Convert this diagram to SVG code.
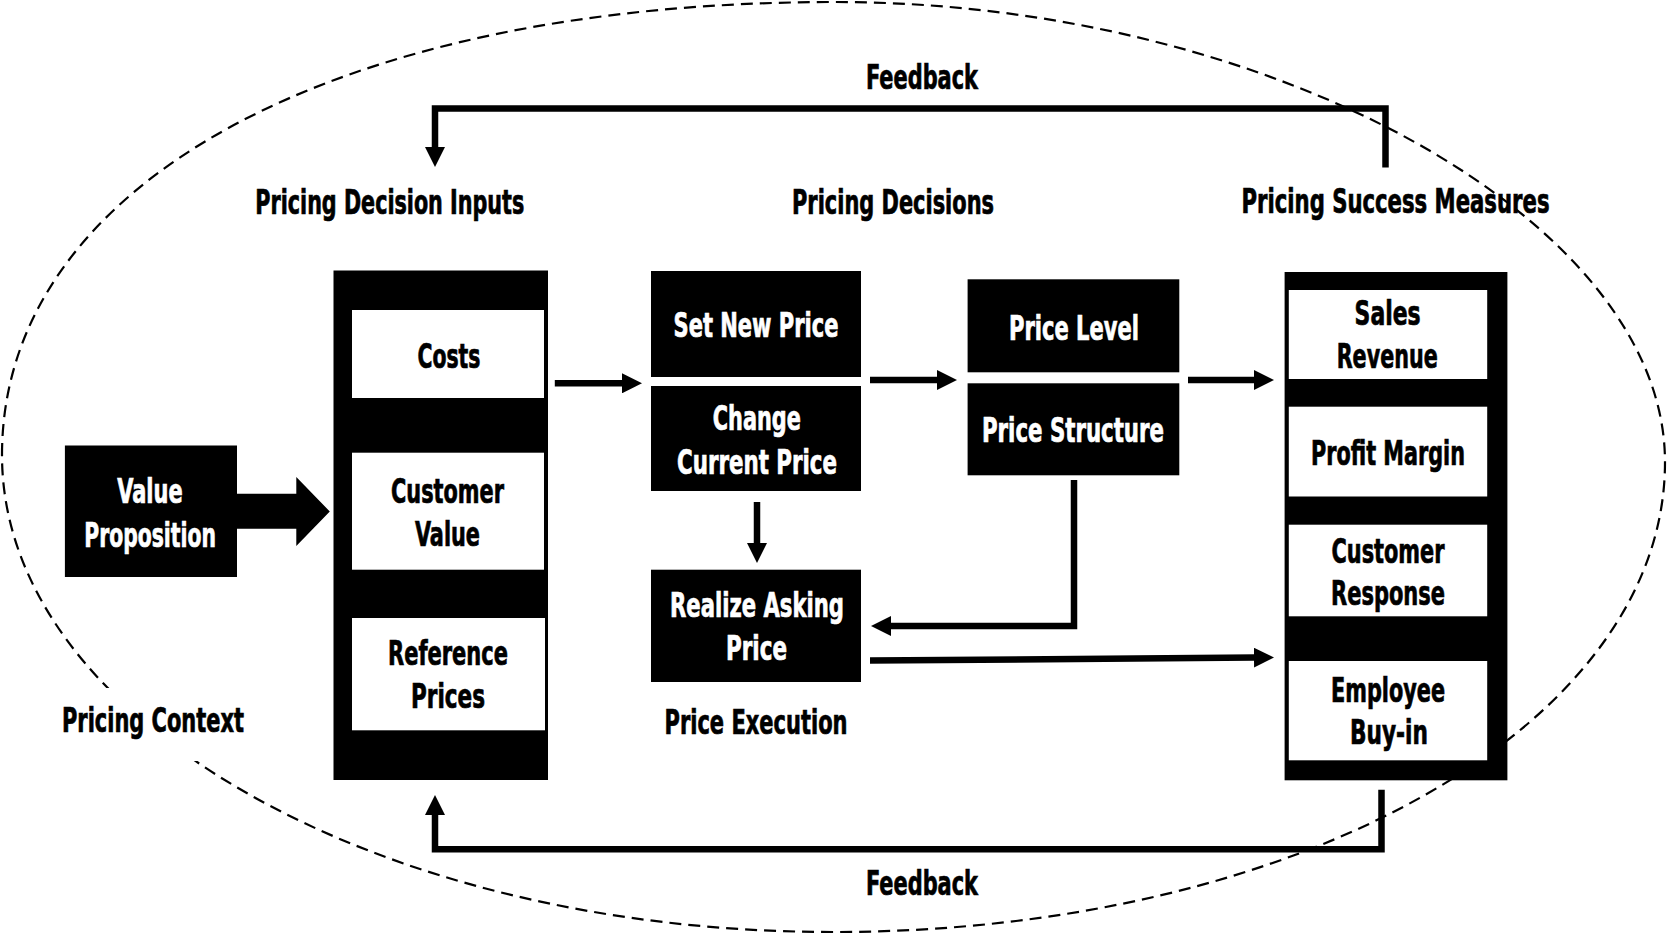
<svg xmlns="http://www.w3.org/2000/svg" width="1667" height="934" viewBox="0 0 1667 934">
<style>
.t{font-family:"Liberation Sans Narrow","DejaVu Sans Condensed","Liberation Sans",sans-serif;font-weight:bold;font-size:33px;fill:#000;stroke:#000;stroke-width:0.7}
.tw{font-family:"Liberation Sans Narrow","DejaVu Sans Condensed","Liberation Sans",sans-serif;font-weight:bold;font-size:33px;fill:#fff;stroke:#fff;stroke-width:0.7}
.blk{fill:#000}
.wht{fill:#fff}
.conn{fill:none;stroke:#000;stroke-width:6.5;stroke-linejoin:miter}
.ctx{fill:none;stroke:#000;stroke-width:2.2;stroke-dasharray:12 7}
</style>
<defs>
<marker id="ah" viewBox="0 0 20 20" markerWidth="20" markerHeight="20" refX="1" refY="10" markerUnits="userSpaceOnUse" orient="auto">
<path d="M0,0 L20,10 L0,20 Z" fill="#000"/>
</marker>
</defs>
<rect width="1667" height="934" fill="#fff"/>
<g id="headers">
<text class="t" x="866" y="89" textLength="112" lengthAdjust="spacingAndGlyphs">Feedback</text>
<text class="t" x="255.3" y="214" textLength="269" lengthAdjust="spacingAndGlyphs">Pricing Decision Inputs</text>
<text class="t" x="792" y="214" textLength="202" lengthAdjust="spacingAndGlyphs">Pricing Decisions</text>
<text class="t" x="1241.5" y="213" textLength="308" lengthAdjust="spacingAndGlyphs">Pricing Success Measures</text>
<text class="t" x="664.5" y="733.5" textLength="183" lengthAdjust="spacingAndGlyphs">Price Execution</text>
<text class="t" x="866" y="895" textLength="112" lengthAdjust="spacingAndGlyphs">Feedback</text>
</g>
<g id="pricing-context">
<path class="ctx" d="M2,455 C2,183.2 335.2,2 835,2 C1270.75,2 1665,220.5 1665,462 C1665,725.2 1298.9,932 833,932 C374,932 2,718.4 2,455 Z"/>
<rect x="60" y="688" width="190" height="73" fill="#fff"/>
<text class="t" x="62" y="732" textLength="182" lengthAdjust="spacingAndGlyphs">Pricing Context</text>
</g>
<g id="value-proposition">
<rect class="blk" x="64.9" y="445.5" width="172.1" height="131.5"/>
<text class="tw" x="117.3" y="503.3" textLength="65.3" lengthAdjust="spacingAndGlyphs">Value</text>
<text class="tw" x="84.3" y="546.7" textLength="131.7" lengthAdjust="spacingAndGlyphs">Proposition</text>
</g>
<g id="pricing-decision-inputs">
<rect class="blk" x="333.5" y="270.5" width="214.5" height="509.5"/>
<g id="costs">
<rect class="wht" x="352" y="310" width="192" height="88"/>
<text class="t" x="417.5" y="367.7" textLength="63" lengthAdjust="spacingAndGlyphs">Costs</text>
</g>
<g id="customer-value">
<rect class="wht" x="352" y="452.7" width="192" height="117"/>
<text class="t" x="391" y="503" textLength="113" lengthAdjust="spacingAndGlyphs">Customer</text>
<text class="t" x="415" y="546.3" textLength="65" lengthAdjust="spacingAndGlyphs">Value</text>
</g>
<g id="reference-prices">
<rect class="wht" x="352" y="618" width="193" height="112.3"/>
<text class="t" x="388" y="665.3" textLength="120" lengthAdjust="spacingAndGlyphs">Reference</text>
<text class="t" x="411" y="707.7" textLength="74" lengthAdjust="spacingAndGlyphs">Prices</text>
</g>
</g>
<g id="set-new-price">
<rect class="blk" x="651" y="271" width="210" height="106"/>
<text class="tw" x="673.5" y="336.7" textLength="165" lengthAdjust="spacingAndGlyphs">Set New Price</text>
</g>
<g id="change-current-price">
<rect class="blk" x="651" y="386" width="210" height="105"/>
<text class="tw" x="712.8" y="430" textLength="88" lengthAdjust="spacingAndGlyphs">Change</text>
<text class="tw" x="677" y="473.5" textLength="160" lengthAdjust="spacingAndGlyphs">Current Price</text>
</g>
<g id="realize-asking-price">
<rect class="blk" x="651" y="569.7" width="210" height="112.3"/>
<text class="tw" x="670" y="617" textLength="174" lengthAdjust="spacingAndGlyphs">Realize Asking</text>
<text class="tw" x="726" y="659.7" textLength="61" lengthAdjust="spacingAndGlyphs">Price</text>
</g>
<g id="price-level">
<rect class="blk" x="967.6" y="279.3" width="211.7" height="93"/>
<text class="tw" x="1009" y="340" textLength="130" lengthAdjust="spacingAndGlyphs">Price Level</text>
</g>
<g id="price-structure">
<rect class="blk" x="967.6" y="383.3" width="211.7" height="92"/>
<text class="tw" x="982" y="441.7" textLength="182" lengthAdjust="spacingAndGlyphs">Price Structure</text>
</g>
<g id="pricing-success-measures">
<rect class="blk" x="1284.6" y="272" width="222.8" height="508.3"/>
<g id="sales-revenue">
<rect class="wht" x="1288.8" y="290" width="198.4" height="89"/>
<text class="t" x="1354.6" y="325" textLength="66" lengthAdjust="spacingAndGlyphs">Sales</text>
<text class="t" x="1336.7" y="368.3" textLength="101" lengthAdjust="spacingAndGlyphs">Revenue</text>
</g>
<g id="profit-margin">
<rect class="wht" x="1288.8" y="406.7" width="198.4" height="89.8"/>
<text class="t" x="1311" y="464.5" textLength="154" lengthAdjust="spacingAndGlyphs">Profit Margin</text>
</g>
<g id="customer-response">
<rect class="wht" x="1288.8" y="524.7" width="198.4" height="91.6"/>
<text class="t" x="1331.5" y="563" textLength="113" lengthAdjust="spacingAndGlyphs">Customer</text>
<text class="t" x="1331" y="605.3" textLength="114" lengthAdjust="spacingAndGlyphs">Response</text>
</g>
<g id="employee-buy-in">
<rect class="wht" x="1288.8" y="661" width="198.4" height="99.3"/>
<text class="t" x="1331" y="702" textLength="114" lengthAdjust="spacingAndGlyphs">Employee</text>
<text class="t" x="1350" y="744.3" textLength="78" lengthAdjust="spacingAndGlyphs">Buy-in</text>
</g>
</g>
<g id="connectors">
<polygon class="blk" points="237,493.7 296.3,493.7 296.3,477 329.8,511.5 296.3,546 296.3,528.7 237,528.7"/>
<path class="conn" d="M554.8,383.3 H623" marker-end="url(#ah)"/>
<path class="conn" d="M870,380 H938" marker-end="url(#ah)"/>
<path class="conn" d="M1188,380 H1255" marker-end="url(#ah)"/>
<path class="conn" d="M757,502 V544" marker-end="url(#ah)"/>
<path class="conn" d="M1074,480 V626 H890" marker-end="url(#ah)"/>
<path class="conn" d="M870,660.5 L1255,657.6" marker-end="url(#ah)"/>
<path class="conn" d="M1385.5,167.5 V108.5 H435 V148" marker-end="url(#ah)"/>
<path class="conn" d="M1381.5,789.7 V849.3 H435 V814" marker-end="url(#ah)"/>
</g>
</svg>
